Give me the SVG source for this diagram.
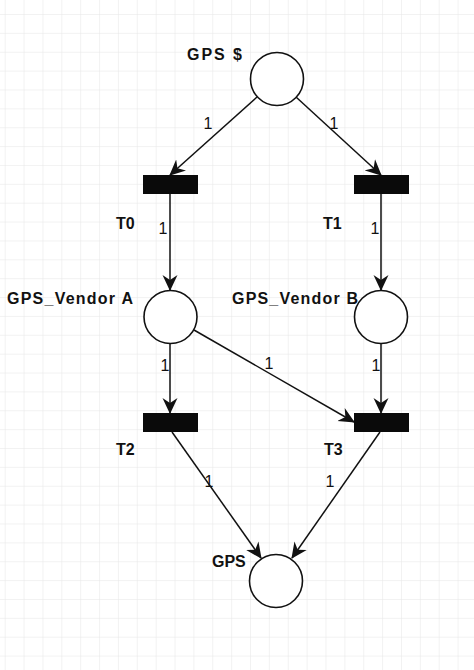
<svg xmlns="http://www.w3.org/2000/svg" width="474" height="670" viewBox="0 0 474 670">
  <defs>
    <pattern id="grid" x="4.7" y="14" width="18.87" height="18.87" patternUnits="userSpaceOnUse">
      <path d="M0,0 H18.87 M0,0 V18.87" fill="none" stroke="#e6e6e6" stroke-width="1"/>
    </pattern>
    <marker id="arrow" viewBox="0 0 16 16" refX="15" refY="8" markerWidth="16" markerHeight="16" markerUnits="userSpaceOnUse" orient="auto">
      <path d="M0,0.5 L16,8 L0,15.5 L5,8 Z" fill="#111"/>
    </marker>
  </defs>
  <style>
    .place { fill: #fff; stroke: #111; stroke-width: 1.6; }
    .trans { fill: #0a0a0a; stroke: none; }
    .lbl { font-family: "Liberation Sans", Arial, sans-serif; font-size: 16px; font-weight: bold; fill: #111; }
    .w { font-family: "Liberation Sans", Arial, sans-serif; font-size: 16px; fill: #111; text-anchor: middle; }
    .arc { fill: none; stroke: #111; stroke-width: 1.5; marker-end: url(#arrow); }
  </style>
  <rect width="474" height="670" fill="#fff"/>
  <rect width="474" height="670" fill="url(#grid)"/>

  <g id="connectors">
    <line class="arc" x1="257" y1="97" x2="170" y2="175"/>
    <line class="arc" x1="296" y1="97" x2="381" y2="175"/>
    <line class="arc" x1="170" y1="194" x2="170" y2="290"/>
    <line class="arc" x1="381" y1="194" x2="381" y2="290"/>
    <line class="arc" x1="170" y1="344" x2="170" y2="413"/>
    <line class="arc" x1="381" y1="344" x2="381" y2="413"/>
    <line class="arc" x1="194" y1="330" x2="354" y2="422"/>
    <line class="arc" x1="172" y1="432" x2="261" y2="558"/>
    <line class="arc" x1="380" y1="432" x2="292" y2="558"/>
    <text class="w" x="208" y="129">1</text>
    <text class="w" x="334" y="129">1</text>
    <text class="w" x="163" y="234">1</text>
    <text class="w" x="375" y="234">1</text>
    <text class="w" x="165" y="371">1</text>
    <text class="w" x="269" y="369">1</text>
    <text class="w" x="376" y="371">1</text>
    <text class="w" x="209" y="487">1</text>
    <text class="w" x="330" y="487">1</text>
  </g>

  <g id="p_gps_src">
    <circle class="place" cx="277" cy="79" r="26.5"/>
    <text class="lbl" x="187" y="60" textLength="55" lengthAdjust="spacing">GPS $</text>
  </g>
  <g id="t0">
    <rect class="trans" x="143" y="175" width="55" height="19"/>
    <text class="lbl" x="116" y="229">T0</text>
  </g>
  <g id="t1">
    <rect class="trans" x="354" y="175" width="55" height="19"/>
    <text class="lbl" x="323" y="229">T1</text>
  </g>
  <g id="p_vendor_a">
    <circle class="place" cx="170.5" cy="317" r="26.5"/>
    <text class="lbl" x="7" y="304" textLength="126" lengthAdjust="spacing">GPS_Vendor A</text>
  </g>
  <g id="p_vendor_b">
    <circle class="place" cx="381" cy="317" r="26.5"/>
    <text class="lbl" x="232" y="304" textLength="126" lengthAdjust="spacing">GPS_Vendor B</text>
  </g>
  <g id="t2">
    <rect class="trans" x="143" y="413" width="55" height="19"/>
    <text class="lbl" x="116" y="455">T2</text>
  </g>
  <g id="t3">
    <rect class="trans" x="354" y="413" width="55" height="19"/>
    <text class="lbl" x="324" y="455">T3</text>
  </g>
  <g id="p_gps">
    <circle class="place" cx="276" cy="581" r="26.5"/>
    <text class="lbl" x="212" y="567">GPS</text>
  </g>
</svg>
